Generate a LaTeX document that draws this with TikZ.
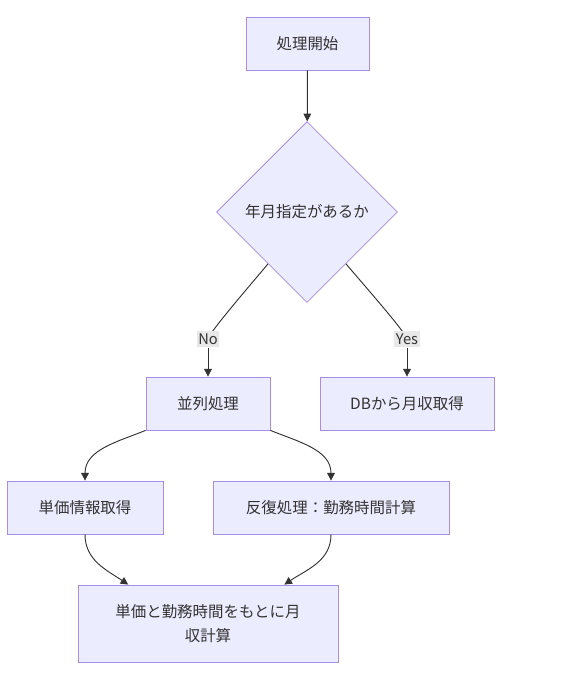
\documentclass[tikz,border=0pt]{standalone}
\usepackage{fontspec}
\setmainfont{Noto Sans CJK JP}
\usetikzlibrary{shapes.geometric,arrows.meta}
\definecolor{boxfill}{HTML}{ECECFF}
\definecolor{boxline}{HTML}{9370DB}
\definecolor{edgeline}{HTML}{333333}
\definecolor{lblfill}{HTML}{E8E8E8}
\begin{document}
\begin{tikzpicture}[x=0.03cm, y=-0.03cm, line width=0.8pt,
  main node/.style={rectangle,draw=boxline!80,line width=0.7pt,fill=boxfill,text=edgeline,minimum height=1.59cm,inner sep=0pt},
  cond node/.style={diamond,aspect=1,draw=boxline!80,line width=0.7pt,fill=boxfill,text=edgeline,minimum width=5.43cm,minimum height=5.43cm,inner sep=0pt},
  lbl node/.style={fill=lblfill,text=edgeline,inner xsep=1.5pt,inner ysep=2.5pt,font=\fontsize{12.5}{15}\selectfont},
  flow/.style={draw=edgeline,-{Triangle[length=6.5pt,width=6.5pt]}}]
\useasboundingbox (0,0) rectangle (562,676);
\begin{scope}[every node/.style={font=\fontsize{13.2}{20}\selectfont}]
\node[main node,minimum width=3.69cm] (start) at (307.5,43.5) {処理開始};
\node[cond node] (ym) at (307,212) {年月指定があるか};
\node[main node,minimum width=3.72cm] (par) at (208,403.5) {並列処理};
\node[main node,minimum width=5.22cm] (db) at (407,403.5) {DBから月収取得};
\node[main node,minimum width=4.68cm] (rate) at (85,507.5) {単価情報取得};
\node[main node,minimum width=7.08cm] (loop) at (331,507.5) {反復処理：勤務時間計算};
\node[main node,minimum width=7.8cm,minimum height=2.31cm,align=center] (calc) at (208,623.5) {単価と勤務時間をもとに月\\収計算};
%\node[main node] () at (,) {};
\end{scope}
\coordinate (nopt) at (208,339);
\coordinate (yespt) at (407,339);
\begin{scope}
\draw[flow] (start) -- (ym);
\draw[edgeline] (ym.-127) to[out=-126,in=90,looseness=0.15] (nopt);
\draw[edgeline] (ym.-53) to[out=-54,in=90,looseness=0.15] (yespt);
\draw[flow] (par.south west) to[out=-158,in=90] (rate.north);
\draw[flow] (par.south east) to[out=-22,in=90] (loop.north);
\draw[flow] (rate.south) to[out=-90,in=146] (calc.154);
\draw[flow] (loop.south) to[out=-90,in=34] (calc.27);
%\draw[flow] () to ();
\end{scope}
\begin{scope}
\node[lbl node] (no) at (nopt) {No};
\node[lbl node] (yes) at (yespt) {Yes};
\draw[flow] (no.south) -- (par.north);
\draw[flow] (yes.south) -- (db.north);
\end{scope}
\end{tikzpicture}
\end{document}
